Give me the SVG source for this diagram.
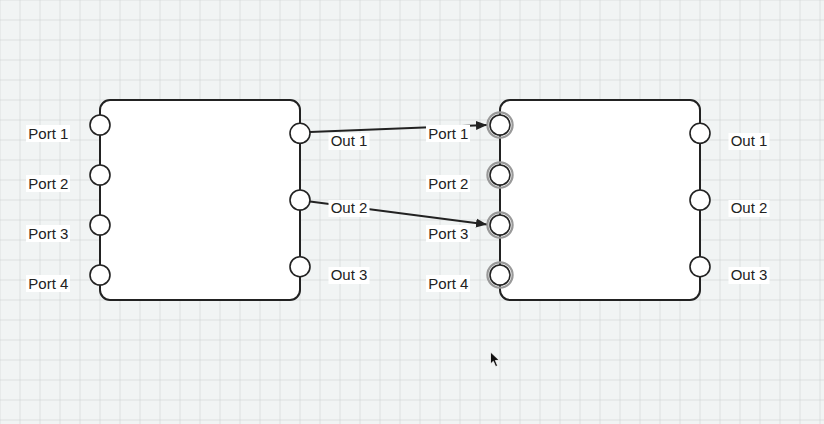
<svg xmlns="http://www.w3.org/2000/svg" width="824" height="424" viewBox="0 0 824 424">
  <defs>
    <pattern id="grid" width="20" height="20" patternUnits="userSpaceOnUse" x="0.5" y="0.5">
      <path d="M20 0 V20 M0 20 H20" fill="none" stroke="#c9cccc" stroke-width="1"/>
    </pattern>
    <marker id="arrow" markerWidth="12" markerHeight="10" refX="11" refY="5" orient="auto" markerUnits="userSpaceOnUse">
      <path d="M0,0.5 L11,5 L0,9.5 Z" fill="#222"/>
    </marker>
    <style>
      .box { fill: #fff; stroke: #222; stroke-width: 2; }
      .port { fill: #fff; stroke: #222; stroke-width: 1.6; }
      .halo { fill: none; stroke: #999; stroke-width: 2.2; }
      .lblbg { fill: #fff; }
      .lbl { font-family: "Liberation Sans", Arial, Helvetica, sans-serif; font-size: 15px; fill: #222; }
      .edge { fill: none; stroke: #222; stroke-width: 2; }
    </style>
  </defs>
  <rect x="0" y="0" width="824" height="424" fill="#f1f4f4"/>
  <rect x="0" y="0" width="824" height="424" fill="url(#grid)"/>

  <g id="connectors">
    <line class="edge" x1="310" y1="132" x2="487" y2="125" marker-end="url(#arrow)"/>
    <line class="edge" x1="310" y1="201.5" x2="487" y2="224.5" marker-end="url(#arrow)"/>
  </g>

  <g id="node1">
    <rect class="box" x="100" y="100" width="200" height="200" rx="10" ry="10"/>
    <circle class="port" cx="100" cy="125" r="10"/>
    <circle class="port" cx="100" cy="175" r="10"/>
    <circle class="port" cx="100" cy="225" r="10"/>
    <circle class="port" cx="100" cy="275" r="10"/>
    <circle class="port" cx="300" cy="133.3" r="10"/>
    <circle class="port" cx="300" cy="200" r="10"/>
    <circle class="port" cx="300" cy="266.7" r="10"/>
    <rect class="lblbg" x="26" y="125" width="44" height="17"/>
    <text class="lbl" x="28.3" y="138.5">Port 1</text>
    <rect class="lblbg" x="26" y="175" width="44" height="17"/>
    <text class="lbl" x="28.3" y="188.5">Port 2</text>
    <rect class="lblbg" x="26" y="225" width="44" height="17"/>
    <text class="lbl" x="28.3" y="238.5">Port 3</text>
    <rect class="lblbg" x="26" y="275" width="44" height="17"/>
    <text class="lbl" x="28.3" y="288.5">Port 4</text>
    <rect class="lblbg" x="328.5" y="133" width="41" height="17"/>
    <text class="lbl" x="330.7" y="146">Out 1</text>
    <rect class="lblbg" x="328.5" y="200" width="41" height="17"/>
    <text class="lbl" x="330.7" y="213">Out 2</text>
    <rect class="lblbg" x="328.5" y="267" width="41" height="17"/>
    <text class="lbl" x="330.7" y="280">Out 3</text>
  </g>

  <g id="node2">
    <rect class="box" x="500" y="100" width="200" height="200" rx="10" ry="10"/>
    <circle class="halo" cx="500" cy="125" r="12.6"/>
    <circle class="port" cx="500" cy="125" r="10"/>
    <circle class="halo" cx="500" cy="175" r="12.6"/>
    <circle class="port" cx="500" cy="175" r="10"/>
    <circle class="halo" cx="500" cy="225" r="12.6"/>
    <circle class="port" cx="500" cy="225" r="10"/>
    <circle class="halo" cx="500" cy="275" r="12.6"/>
    <circle class="port" cx="500" cy="275" r="10"/>
    <circle class="port" cx="700" cy="133.3" r="10"/>
    <circle class="port" cx="700" cy="200" r="10"/>
    <circle class="port" cx="700" cy="266.7" r="10"/>
    <rect class="lblbg" x="426" y="125" width="44" height="17"/>
    <text class="lbl" x="428.3" y="138.5">Port 1</text>
    <rect class="lblbg" x="426" y="175" width="44" height="17"/>
    <text class="lbl" x="428.3" y="188.5">Port 2</text>
    <rect class="lblbg" x="426" y="225" width="44" height="17"/>
    <text class="lbl" x="428.3" y="238.5">Port 3</text>
    <rect class="lblbg" x="426" y="275" width="44" height="17"/>
    <text class="lbl" x="428.3" y="288.5">Port 4</text>
    <rect class="lblbg" x="728.5" y="133" width="41" height="17"/>
    <text class="lbl" x="730.7" y="146">Out 1</text>
    <rect class="lblbg" x="728.5" y="200" width="41" height="17"/>
    <text class="lbl" x="730.7" y="213">Out 2</text>
    <rect class="lblbg" x="728.5" y="267" width="41" height="17"/>
    <text class="lbl" x="730.7" y="280">Out 3</text>
  </g>

  <polygon points="490.5,352 490.5,364 493.3,361.3 495.6,366.6 497.6,365.7 495.4,360.5 499.2,360.3" fill="#111" stroke="#fff" stroke-width="0.8"/>
</svg>
